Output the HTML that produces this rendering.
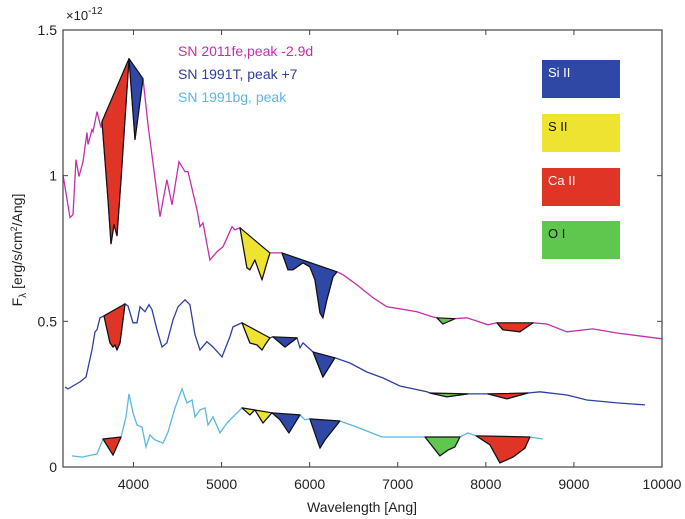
<!DOCTYPE html>
<html><head><meta charset="utf-8">
<style>
body{margin:0;background:#fff;}
svg{display:block;font-family:"Liberation Sans",sans-serif;}
</style></head>
<body>
<svg id="chart" width="685" height="519" viewBox="0 0 685 519" xmlns="http://www.w3.org/2000/svg">
<rect x="0" y="0" width="685" height="519" fill="#fff"/>
<g id="fills"></g>
<g id="lines"></g>
<g id="axes"></g>
<text x="66" y="20" font-size="13" fill="#222">×10<tspan dy="-6" font-size="10">-12</tspan></text>
<text transform="translate(22,250) rotate(-90)" text-anchor="middle" font-size="14" fill="#222">F<tspan font-size="10" dy="4">λ</tspan><tspan dy="-4"> [erg/s/cm</tspan><tspan font-size="9" dy="-5">2</tspan><tspan dy="5">/Ang]</tspan></text>
<text x="362" y="512" text-anchor="middle" font-size="14" fill="#222">Wavelength [Ang]</text>
<text x="178" y="56" font-size="14" fill="#c32fae">SN 2011fe,peak -2.9d</text>
<text x="178" y="79" font-size="14" fill="#2e40a0">SN 1991T, peak +7</text>
<text x="178" y="102" font-size="14" fill="#5cb7e2">SN 1991bg, peak</text>
<g>
<rect x="542" y="60" width="78" height="38" fill="#2f47a5"/>
<text x="548" y="77" font-size="13" fill="#fff">Si II</text>
<rect x="542" y="114" width="78" height="38" fill="#ede330"/>
<text x="548" y="131" font-size="13" fill="#111">S II</text>
<rect x="542" y="168" width="78" height="38" fill="#e03426"/>
<text x="548" y="185" font-size="13" fill="#fff">Ca II</text>
<rect x="542" y="221" width="78" height="38" fill="#60c74e"/>
<text x="548" y="238" font-size="13" fill="#111">O I</text>
</g>
</svg>
<script>
const xTicks = [4000, 5000, 6000, 7000, 8000, 9000, 10000];
const yTicks = [0, 0.5, 1, 1.5];
const yTickLabels = ["0", "0.5", "1", "1.5"];

const fe2011Wave = [3200,3280,3314,3348,3382,3427,3472,3484,3529,3540,3586,3631,3643,3711,3745,3779,3813,3858,3949,4017,4108,4165,4301,4380,4437,4517,4585,4619,4721,4755,4789,4868,4948,5016,5118,5152,5209,5288,5322,5379,5459,5515,5549,5686,5754,5811,5924,6003,6060,6117,6151,6196,6265,6310,6378,6537,6719,6877,7025,7218,7400,7445,7513,7649,7785,8024,8126,8194,8387,8535,8693,8920,9216,9488,9999];
const fe2011Flux = [1.003,0.856,0.866,1.055,0.997,1.048,1.148,1.107,1.158,1.151,1.220,1.165,1.186,0.918,0.766,0.832,0.794,0.986,1.402,1.124,1.333,1.175,0.859,0.986,0.900,1.048,1.014,1.014,0.883,0.825,0.838,0.711,0.739,0.756,0.825,0.814,0.821,0.684,0.677,0.711,0.643,0.701,0.735,0.735,0.677,0.677,0.701,0.687,0.643,0.529,0.512,0.574,0.653,0.670,0.660,0.625,0.581,0.550,0.543,0.533,0.515,0.512,0.491,0.509,0.512,0.488,0.495,0.471,0.464,0.495,0.491,0.464,0.474,0.460,0.440];

const t1991Wave = [3223,3257,3393,3461,3529,3563,3586,3620,3665,3733,3768,3790,3813,3847,3904,3938,3995,4040,4074,4131,4176,4210,4267,4324,4380,4449,4505,4585,4641,4698,4755,4834,4903,5005,5095,5130,5232,5322,5402,5459,5493,5549,5583,5720,5856,5890,5924,6038,6151,6287,6457,6650,6832,7025,7331,7365,7558,7797,8024,8240,8478,8614,8920,9147,9488,9806];
const t1991Flux = [0.275,0.268,0.292,0.309,0.402,0.464,0.471,0.512,0.519,0.426,0.412,0.419,0.402,0.426,0.560,0.553,0.495,0.495,0.550,0.533,0.557,0.540,0.471,0.412,0.426,0.505,0.550,0.574,0.557,0.454,0.402,0.430,0.412,0.378,0.447,0.481,0.495,0.426,0.419,0.402,0.419,0.443,0.447,0.412,0.443,0.409,0.426,0.395,0.309,0.375,0.357,0.326,0.306,0.278,0.258,0.254,0.241,0.251,0.251,0.234,0.254,0.258,0.247,0.230,0.220,0.213];

const bg1991Wave = [3302,3416,3586,3654,3768,3858,3915,3949,3995,4040,4097,4142,4187,4244,4335,4392,4471,4551,4607,4664,4698,4755,4812,4846,4903,4982,5061,5130,5232,5322,5379,5470,5572,5663,5765,5890,5947,6003,6117,6174,6344,6537,6821,7025,7309,7479,7570,7649,7706,7797,7888,8047,8160,8308,8444,8500,8648];
const bg1991Flux = [0.038,0.034,0.045,0.096,0.041,0.103,0.172,0.251,0.186,0.144,0.137,0.069,0.110,0.093,0.082,0.120,0.203,0.268,0.220,0.230,0.172,0.196,0.203,0.144,0.172,0.117,0.151,0.172,0.203,0.179,0.196,0.151,0.186,0.162,0.117,0.179,0.162,0.165,0.065,0.093,0.158,0.137,0.103,0.103,0.103,0.038,0.058,0.069,0.103,0.117,0.107,0.076,0.014,0.034,0.065,0.103,0.096];

// features: spectrum index, start, end, ion
const featSeries = [0,0,0,0,0,0, 1,1,1,1,1,1, 2,2,2,2,2,2];
const featStart = [3643,3949,5209,5686,7445,8126, 3665,5232,5583,6038,7365,8024, 3654,5232,5572,6003,7309,7888];
const featEnd   = [3949,4108,5549,6310,7649,8535, 3904,5549,5856,6287,7797,8478, 3858,5572,5890,6344,7706,8500];
const featIon   = ["Ca","Si","S","Si","O","Ca", "Ca","S","Si","Si","O","Ca", "Ca","S","Si","Si","O","Ca"];

const ionColor = {Si:"#2f47a5", S:"#ede330", Ca:"#e03426", O:"#60c74e"};
const L=63,R=662,T=30,B=467, XMIN=3200, XMAX=10000, YMAX=1.5;
const xs = v => L + (v - XMIN) / (XMAX - XMIN) * (R - L);
const ys = v => B - v / YMAX * (B - T);
const NS="http://www.w3.org/2000/svg";
const series = [
  {w:fe2011Wave, f:fe2011Flux, c:"#c32fae", n:"sn2011fe-line"},
  {w:t1991Wave, f:t1991Flux, c:"#2e40a0", n:"sn1991t-line"},
  {w:bg1991Wave, f:bg1991Flux, c:"#5cb7e2", n:"sn1991bg-line"}
];
function interp(s, w){
  for(let i=0;i<s.w.length-1;i++){
    if(w>=s.w[i] && w<=s.w[i+1]){const t=(w-s.w[i])/(s.w[i+1]-s.w[i]);return s.f[i]+t*(s.f[i+1]-s.f[i]);}
  }
  return s.f[s.f.length-1];
}
const fills=document.getElementById('fills');
for(let k=0;k<featSeries.length;k++){
  const s=series[featSeries[k]], a=featStart[k], b=featEnd[k];
  const pts=[[a,interp(s,a)]];
  for(let i=0;i<s.w.length;i++){ if(s.w[i]>a && s.w[i]<b) pts.push([s.w[i],s.f[i]]); }
  pts.push([b,interp(s,b)]);
  const p=document.createElementNS(NS,'polygon');
  p.setAttribute('points',pts.map(q=>xs(q[0]).toFixed(1)+','+ys(q[1]).toFixed(1)).join(' '));
  p.setAttribute('fill',ionColor[featIon[k]]);
  p.setAttribute('stroke','#111');
  p.setAttribute('stroke-width','1.2');
  p.setAttribute('stroke-linejoin','round');
  
  
  fills.appendChild(p);
}
const lines=document.getElementById('lines');
series.forEach(s=>{
  const p=document.createElementNS(NS,'polyline');
  p.setAttribute('points',s.w.map((w,i)=>xs(w).toFixed(1)+','+ys(s.f[i]).toFixed(1)).join(' '));
  p.setAttribute('fill','none');
  p.setAttribute('stroke',s.c);
  p.setAttribute('stroke-width','1.3');
  
  
  lines.insertBefore(p, lines.firstChild);
});
const chart=document.getElementById('chart');
chart.insertBefore(lines, fills);
const axes=document.getElementById('axes');
const frame=document.createElementNS(NS,'rect');
frame.setAttribute('x',L);frame.setAttribute('y',T);frame.setAttribute('width',R-L);frame.setAttribute('height',B-T);
frame.setAttribute('fill','none');frame.setAttribute('stroke','#444');frame.setAttribute('stroke-width','1.2');


axes.appendChild(frame);
xTicks.forEach(v=>{
  const x=xs(v);
  [[B,B-5],[T,T+5]].forEach(yy=>{
    const l=document.createElementNS(NS,'line');
    l.setAttribute('x1',x);l.setAttribute('x2',x);l.setAttribute('y1',yy[0]);l.setAttribute('y2',yy[1]);
    l.setAttribute('stroke','#444');
    
    
    axes.appendChild(l);
  });
  const t=document.createElementNS(NS,'text');
  t.setAttribute('x',x);t.setAttribute('y',B+22);t.setAttribute('text-anchor','middle');t.setAttribute('font-size','14');t.setAttribute('fill','#222');
  t.textContent=String(v);
  
  
  axes.appendChild(t);
});
yTicks.forEach((v,i)=>{
  const y=ys(v);
  [[L,L+5],[R,R-5]].forEach(xx=>{
    const l=document.createElementNS(NS,'line');
    l.setAttribute('x1',xx[0]);l.setAttribute('x2',xx[1]);l.setAttribute('y1',y);l.setAttribute('y2',y);
    l.setAttribute('stroke','#444');
    
    
    axes.appendChild(l);
  });
  const t=document.createElementNS(NS,'text');
  t.setAttribute('x',L-6);t.setAttribute('y',y+5);t.setAttribute('text-anchor','end');t.setAttribute('font-size','14');t.setAttribute('fill','#222');
  t.textContent=yTickLabels[i];
  
  
  axes.appendChild(t);
});
</script>
</body></html>
